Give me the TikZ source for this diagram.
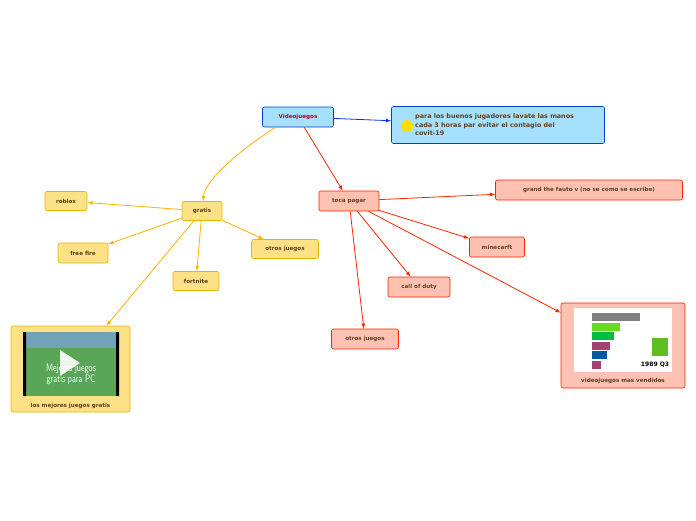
\documentclass[tikz,border=0pt]{standalone}
\usepackage{fontspec}
\setmainfont{DejaVu Sans}
\begin{document}
\begin{tikzpicture}[x=1pt,y=-1pt,
 base/.style={rounded corners=2pt,font=\fontsize{5.6}{6.5}\selectfont\bfseries,text=brown!50!black,inner sep=0pt,line width=0.6pt},
 yel/.style={base,draw=orange!40!yellow!90!black,fill=yellow!55!orange!45},
 red/.style={base,draw=red!75!orange,fill=orange!40!red!30},
 blu/.style={base,draw=blue!70!cyan!80!black,fill=blue!35!cyan!35},
 ya/.style={-latex,draw=orange!60!yellow,line width=0.8pt},
 ra/.style={-latex,draw=red!70!orange,line width=0.8pt},
 ba/.style={-latex,draw=blue!80!cyan,line width=0.8pt}]
\useasboundingbox (0,0) rectangle (696,520);
\fill[white] (0,0) rectangle (696,520);
\node[blu,minimum width=71pt,minimum height=20pt,text=red!80!black] (v) at (298,117) {Videojuegos};
\node[blu,minimum width=213pt,minimum height=37pt] (n) at (498,125) {};
\fill[yellow!80!orange] (407,126) circle (6);
\node[font=\fontsize{6.4}{8.5}\selectfont\bfseries,text=brown!50!black,anchor=west,align=left,inner sep=0pt] at (415,125) {para los buenos jugadores lavate las manos\\cada 3 horas par evitar el contagio del\\covit-19};
\node[yel,minimum width=40pt,minimum height=19pt] (g) at (202,211) {gratis};
\node[yel,minimum width=42pt,minimum height=19pt] (rb) at (66,201) {roblox};
\node[yel,minimum width=50pt,minimum height=20pt] (ff) at (83,253) {free fire};
\node[yel,minimum width=46pt,minimum height=19pt] (fn) at (196,281) {fortnite};
\node[yel,minimum width=67pt,minimum height=19pt] (oy) at (285,249) {otros juegos};
\node[yel,minimum width=119pt,minimum height=86pt] (vb) at (70.5,369) {};
\node[base,anchor=south] at (70.5,409) {los mejores juegos gratis};
\fill[green!30!gray] (23,332) rectangle (119,396);
\fill[cyan!40!gray] (23,332) rectangle (119,348);
\fill[black] (23,332) rectangle (26,396) (116,332) rectangle (119,396);
\fill[white,opacity=0.9] (60,350) -- (60,376) -- (80,363) -- cycle;
\node[white,font=\fontsize{11}{11}\selectfont\sffamily,align=center,inner sep=0pt,xscale=0.75] at (71,374) {Mejores juegos\\gratis para PC};
\node[red,minimum width=60pt,minimum height=20pt] (t) at (349,201) {toca pagar};
\node[red,minimum width=187pt,minimum height=20pt] (gt) at (589,190) {grand the fauto v (no se como se escribe)};
\node[red,minimum width=55pt,minimum height=20pt] (mc) at (497,247) {minecarft};
\node[red,minimum width=62pt,minimum height=20pt] (cd) at (419,287) {call of duty};
\node[red,minimum width=67pt,minimum height=20pt] (or) at (365,339) {otros juegos};
\node[red,minimum width=124pt,minimum height=85pt] (vm) at (623,345.5) {};
\node[base,anchor=south] at (623,384) {videojuegos mas vendidos};
\fill[white] (574,308) rectangle (672,372);
\fill[gray] (592,313) rectangle (640,321);
\fill[green!50!lime!70!gray] (592,323) rectangle (620,331);
\fill[green!50!teal] (592,332) rectangle (614,340);
\fill[magenta!60!black] (592,342) rectangle (610,350);
\fill[teal!70!blue] (592,351) rectangle (607,359);
\fill[magenta!60!black] (592,361) rectangle (601,369);
\fill[green!50!brown] (652,338) rectangle (668,356);
\node[font=\fontsize{6}{6}\selectfont\bfseries,inner sep=0pt] at (655,365) {1989 Q3};
\draw[ya] (276,127) .. controls (240,150) and (205,180) .. (g);
\draw[ba] (v) -- (n);
\draw[ra] (v) -- (t);
\draw[ya] (g) -- (rb);
\draw[ya] (g) -- (ff);
\draw[ya] (g) -- (fn);
\draw[ya] (g) -- (oy);
\draw[ya] (g) -- (vb);
\draw[ra] (t) -- (gt);
\draw[ra] (t) -- (mc);
\draw[ra] (t) -- (cd);
\draw[ra] (t) -- (or);
\draw[ra] (t) -- (vm);
\end{tikzpicture}
\end{document}
